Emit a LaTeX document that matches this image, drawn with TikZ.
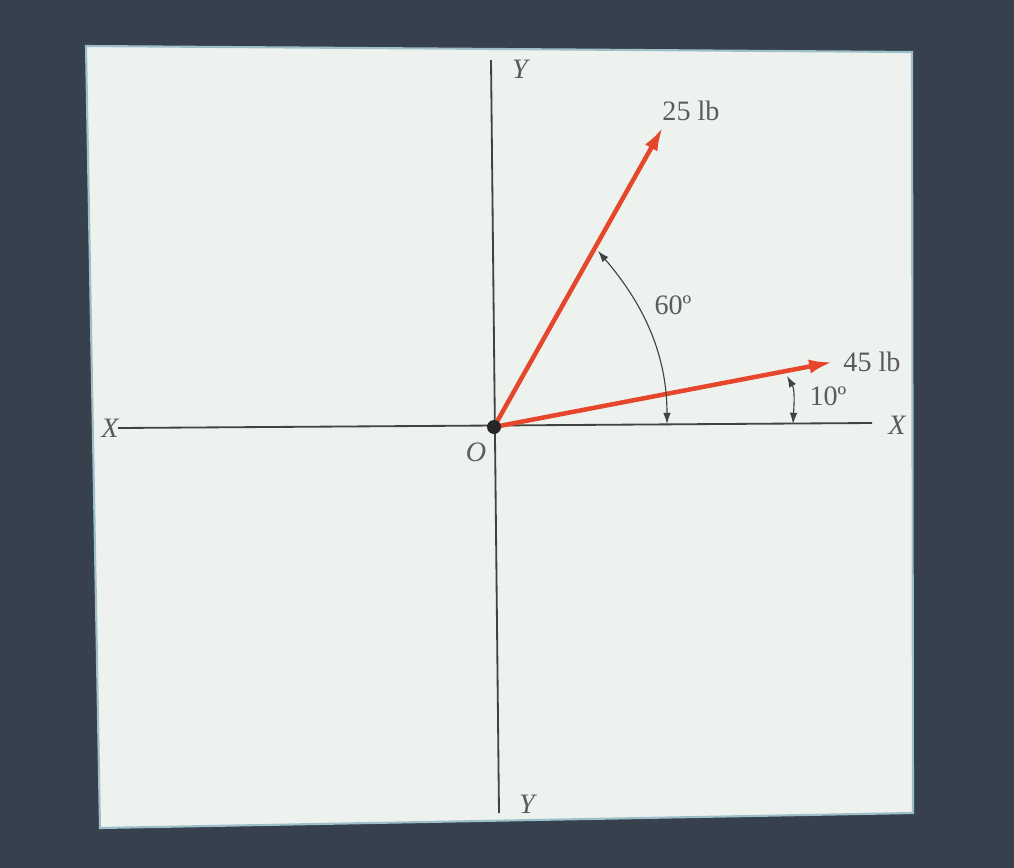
\documentclass[tikz,border=0pt]{standalone}
\usepackage{fontspec}
\setmainfont{Liberation Serif}
\usetikzlibrary{arrows.meta}
\definecolor{bezel}{HTML}{37414D}
\definecolor{panel}{HTML}{EEF2EF}
\definecolor{paneledge}{HTML}{9DBFC8}
\definecolor{axiscol}{HTML}{3E4444}
\definecolor{force}{HTML}{E5462C}
\definecolor{txt}{HTML}{5A5C5C}
\begin{document}
\begin{tikzpicture}[x=0.025cm,y=-0.025cm,
  lbl/.style={text=txt,font=\fontsize{20}{24}\selectfont,inner sep=0pt},
  ilbl/.style={lbl,font=\fontsize{20}{24}\selectfont\itshape},
  axisline/.style={draw=axiscol,line width=1.3pt},
  forcevec/.style={draw=force,line width=3.2pt,-{Latex[length=17pt,width=10pt]}},
  anglearc/.style={draw=axiscol,line width=0.8pt,{Latex[length=8pt,width=5.5pt]}-{Latex[length=8pt,width=5.5pt]}}]
% background and screen panel
\fill[bezel] (0,0) rectangle (1014,868);
\useasboundingbox (0,0) rectangle (1014,868);
\filldraw[fill=panel,draw=paneledge,line width=1.5pt] (86,46) -- (912,52) -- (913,813) -- (100,828) -- cycle;
% points
\coordinate (O) at (494,427);
\coordinate (yTop) at (491,60);
\coordinate (yBot) at (499,813);
\coordinate (xLeft) at (118,428);
\coordinate (xRight) at (872,423);
\coordinate (t25) at (663,127);
\coordinate (t45) at (833,362);
\coordinate (a60s) at (598,251);
\coordinate (a60e) at (667,424);
\coordinate (a10s) at (787,376);
\coordinate (a10e) at (793,424);
% axes
\draw[axisline] (yTop) -- (yBot);
\draw[axisline] (xLeft) -- (xRight);
% forces
\draw[forcevec] (O) -- (t25);
\draw[forcevec] (O) -- (t45);
\fill[black!85] (O) circle (7);
% angle arcs
\draw[anglearc] (a60s) .. controls (640,300) and (667,350) .. (a60e);
\draw[anglearc] (a10s) .. controls (795,390) and (794,405) .. (a10e);
% labels
\node[lbl] (l25) at (691,111) {25 lb};
\node[lbl] (l45) at (872,362) {45 lb};
\node[lbl] (l60) at (673,305) {60º};
\node[lbl] (l10) at (828,396) {10º};
\node[ilbl] (lYt) at (520,69) {Y};
\node[ilbl] (lYb) at (527,804) {Y};
\node[ilbl] (lXl) at (110,428) {X};
\node[ilbl] (lXr) at (897,425) {X};
\node[ilbl] (lO) at (476,452) {O};
\end{tikzpicture}
\end{document}
